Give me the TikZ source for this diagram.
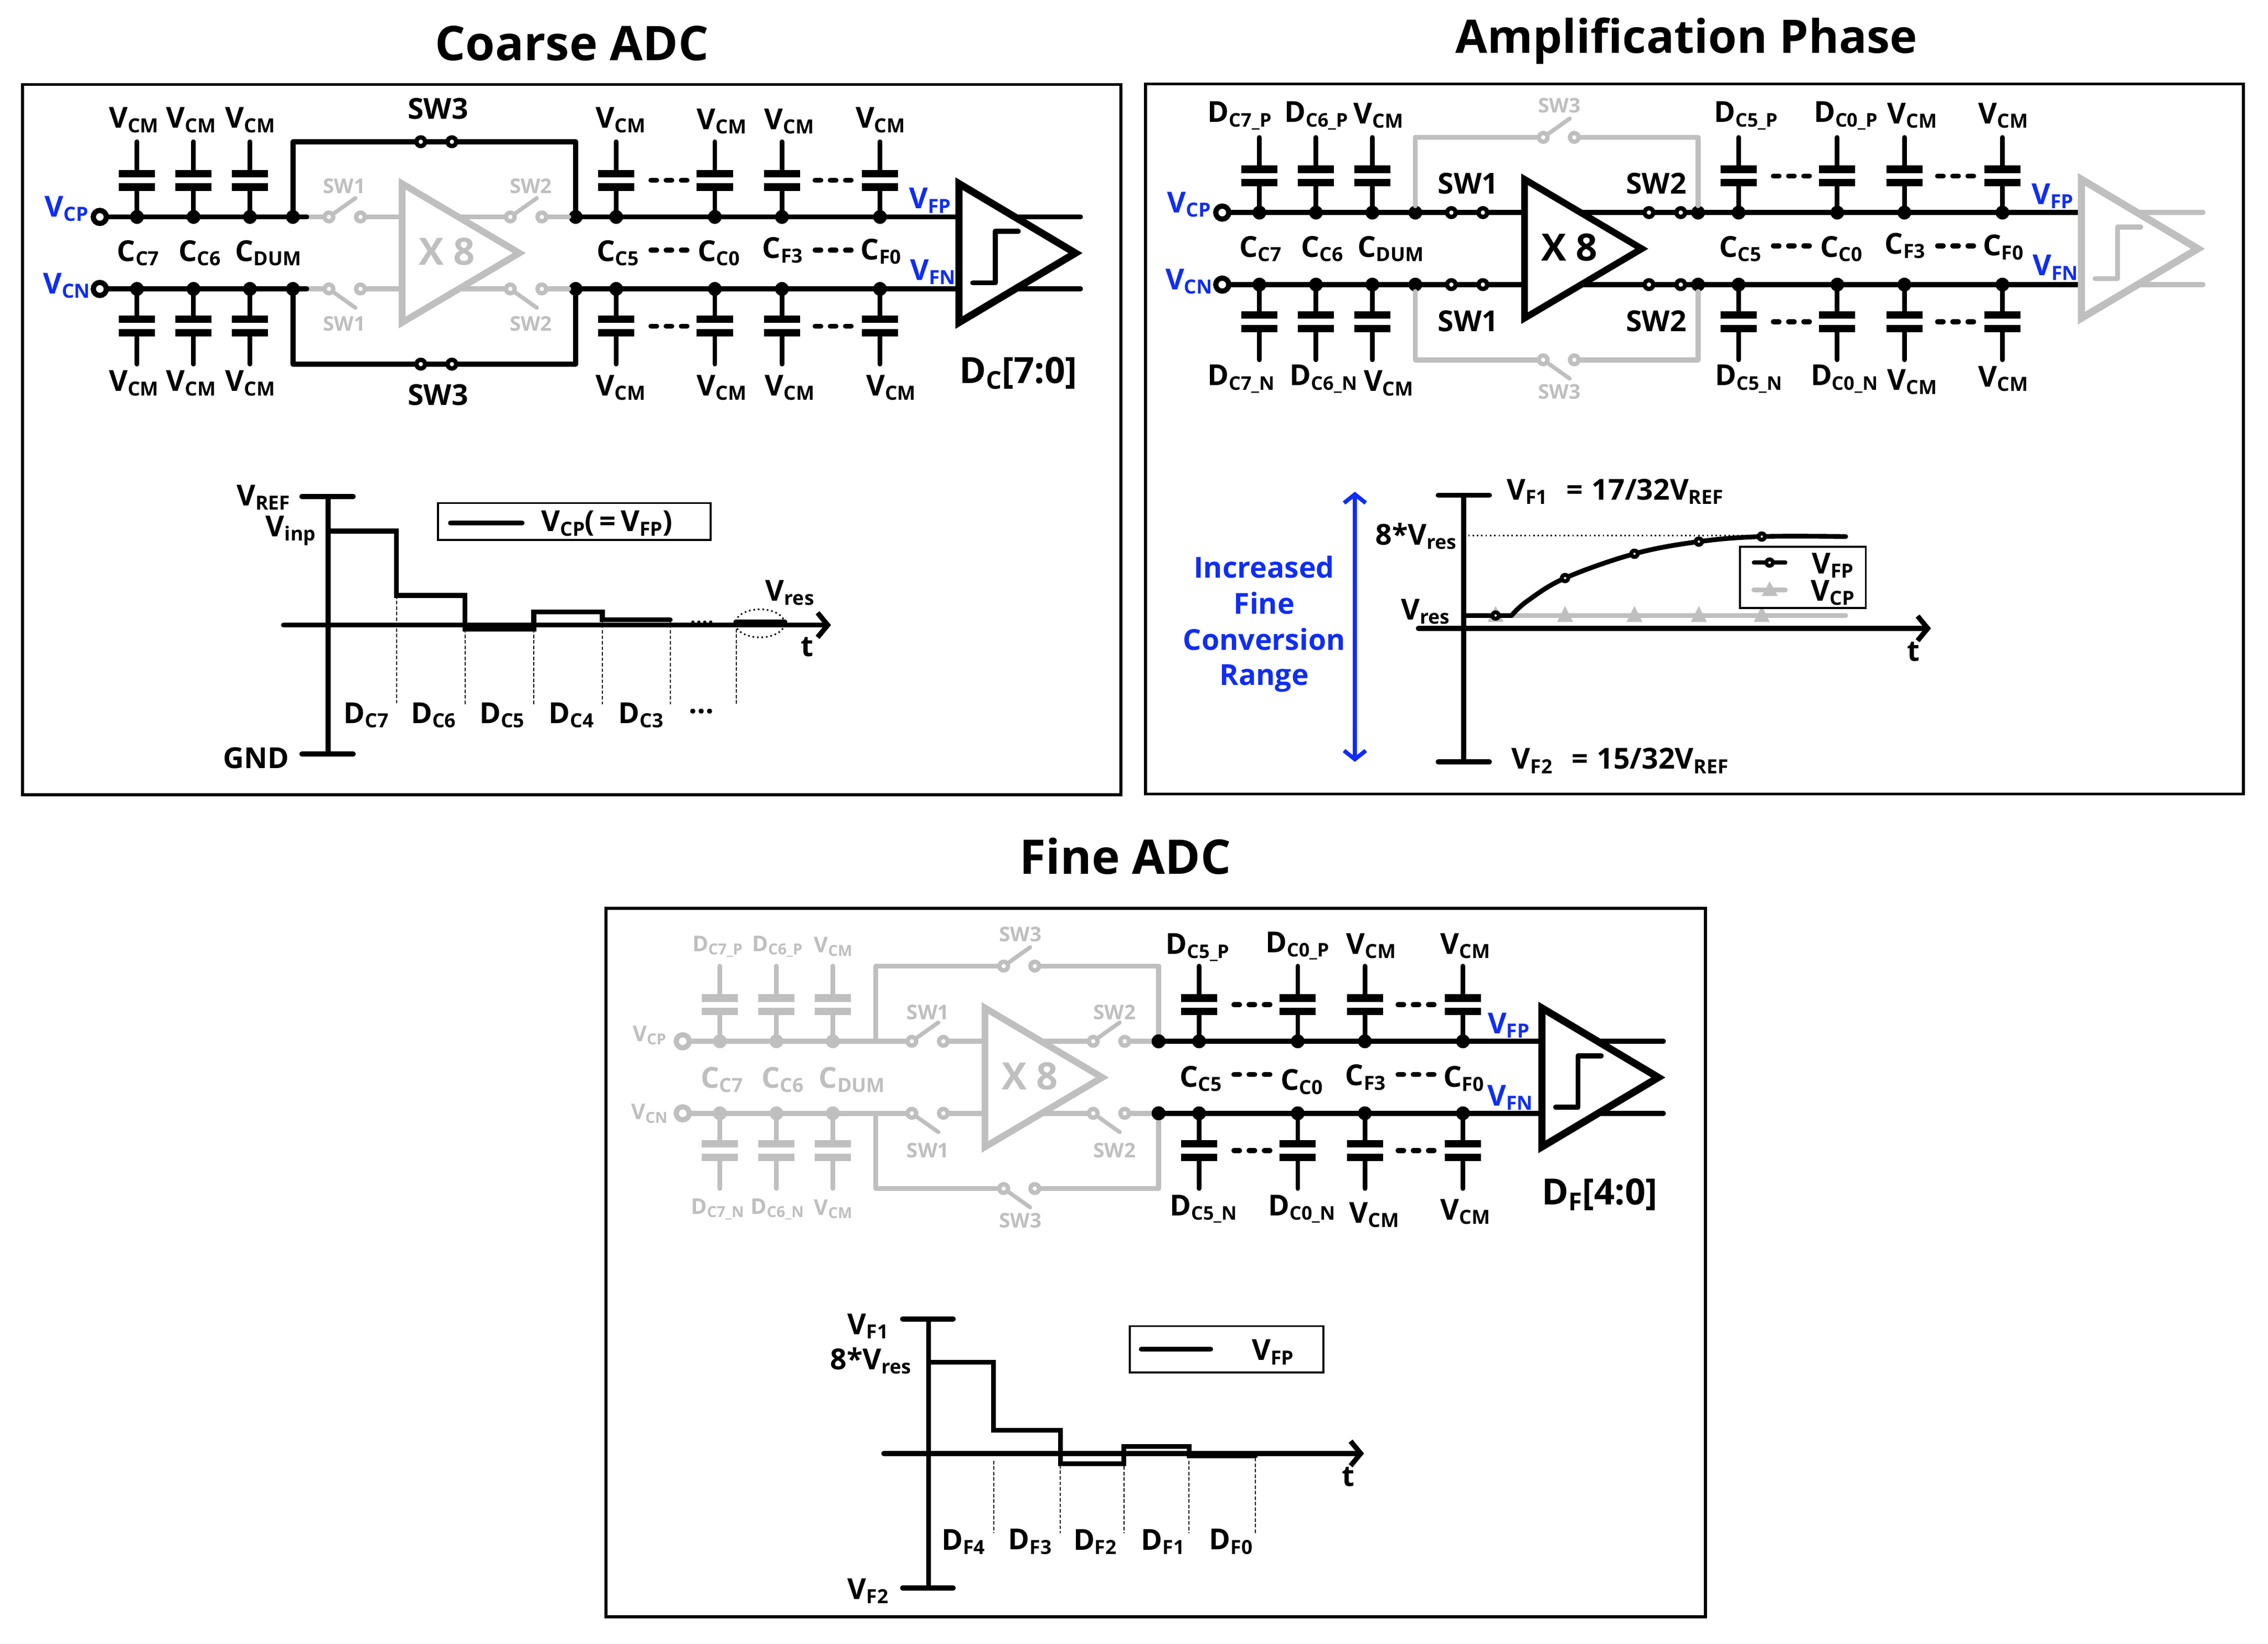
\documentclass[tikz,border=0pt]{standalone}
\usepackage{fontspec}
\setmainfont{Open Sans}
\usetikzlibrary{arrows.meta}
\definecolor{swg}{HTML}{BFBFBF}
\definecolor{vblue}{HTML}{0F2DF5}
\newcounter{lb}
\def\subsz{13.5}
\newcommand\Sb[2]{#1\raisebox{-0.15em}{\fontsize{\subsz}{\subsz}\selectfont #2}}
\newcommand\tl[4][lab]{\stepcounter{lb}\node[#1] (t\thelb) at (#2,#3) {#4};}
\tikzset{
  lab/.style={font=\fontsize{20}{24}\selectfont\bfseries\def\subsz{13.5},inner sep=0pt,align=center},
  labm/.style={font=\fontsize{20}{24}\selectfont\bfseries\def\subsz{13},inner sep=0pt},
  labb/.style={font=\fontsize{25}{30}\selectfont\bfseries\def\subsz{17},inner sep=0pt},
  labs/.style={font=\fontsize{15}{18}\selectfont\bfseries\def\subsz{10.5},inner sep=0pt,text=swg},
  labsw/.style={font=\fontsize{14}{17}\selectfont\bfseries,inner sep=0pt,text=swg},
  title/.style={font=\fontsize{33}{38}\selectfont\bfseries,inner sep=0pt},
  titleb/.style={font=\fontsize{32}{38}\selectfont\bfseries,inner sep=0pt},
  labx/.style={font=\fontsize{26}{30}\selectfont\bfseries,inner sep=0pt},
  wire/.style={line width=3.5pt,line cap=round,line join=round},
  capw/.style={line width=3.2pt,line cap=round},
  plate/.style={line width=5.2pt},
  ampw/.style={line width=4.6pt,line join=miter},
  armw/.style={line width=2.8pt,line cap=round},
  jdot/.style={circle,fill,minimum size=9.6pt,inner sep=0pt,outer sep=0pt},
  ring/.style={circle,draw,fill=white,line width=3pt,minimum size=6pt,inner sep=0pt},
  term/.style={circle,draw,fill=white,line width=3.6pt,minimum size=9pt,inner sep=0pt},
  rows/.style={line width=3.4pt,line cap=round,dash pattern=on 4pt off 6.5pt},
  panel/.style={draw,line width=2pt},
  axis/.style={line width=3.5pt,line cap=round},
  axarrow/.style={axis,-{Straight Barb[length=7pt,width=17pt]}},
  wave/.style={line width=3.3pt,line join=miter,line cap=round},
  vdash/.style={line width=0.8pt,dash pattern=on 2.5pt off 1.3pt},
  legbox/.style={draw,line width=1.3pt},
}
\newcommand\capU[3]{%
  \coordinate (#1t) at (#2,98); \coordinate (#1a) at (#2,120.1); \coordinate (#1b) at (#2,129.3);
  \node[jdot,#3] (#1) at (#2,150) {};
  \draw[capw,#3] (#1t) -- (#1a); \draw[capw,#3] (#1b) -- (#1);
  \draw[plate,#3] ([xshift=-12.5pt]#1a) -- ([xshift=12.5pt]#1a);
  \draw[plate,#3] ([xshift=-12.5pt]#1b) -- ([xshift=12.5pt]#1b);}
\newcommand\capD[3]{%
  \coordinate (#1t) at (#2,251.8); \coordinate (#1a) at (#2,230.2); \coordinate (#1b) at (#2,220.8);
  \node[jdot,#3] (#1) at (#2,199.8) {};
  \draw[capw,#3] (#1t) -- (#1a); \draw[capw,#3] (#1b) -- (#1);
  \draw[plate,#3] ([xshift=-12.5pt]#1a) -- ([xshift=12.5pt]#1a);
  \draw[plate,#3] ([xshift=-12.5pt]#1b) -- ([xshift=12.5pt]#1b);}
\newcommand\leftcaps[1]{%
  \capU{cu1}{94.7}{#1}\capU{cu2}{133.8}{#1}\capU{cu3}{172.8}{#1}%
  \capD{cd1}{94.7}{#1}\capD{cd2}{133.8}{#1}\capD{cd3}{172.8}{#1}%
  \node[term,draw=#1] (vcp) at (69,150) {};
  \node[term,draw=#1] (vcn) at (69,199.8) {};
  \draw[wire,#1] (vcp) -- (cu1) -- (cu2) -- (cu3);
  \draw[wire,#1] (vcn) -- (cd1) -- (cd2) -- (cd3);}
\newcommand\rightcaps{%
  \capU{ru1}{426}{black}\capU{ru2}{494.2}{black}\capU{ru3}{540.6}{black}\capU{ru4}{608.4}{black}%
  \capD{rd1}{426}{black}\capD{rd2}{494.2}{black}\capD{rd3}{540.6}{black}\capD{rd4}{608.4}{black}%
  \node[jdot] (jr1) at (398,150) {}; \node[jdot] (jr2) at (398,199.8) {};
  \coordinate (ci1) at (663,150); \coordinate (ci2) at (663,199.8);
  \draw[wire] (jr1) -- (ru1) -- (ru2) -- (ru3) -- (ru4) -- (ci1);
  \draw[wire] (jr2) -- (rd1) -- (rd2) -- (rd3) -- (rd4) -- (ci2);
  \draw[rows] (450,124.7) -- (475.5,124.7);
  \draw[rows] (563.5,124.7) -- (589,124.7);
  \draw[rows] (450,173) -- (475.5,173);
  \draw[rows] (563.5,173) -- (589,173);
  \draw[rows] (450,225.5) -- (475.5,225.5);
  \draw[rows] (563.5,225.5) -- (589,225.5);}
\newcommand\ampl[1]{%
  \draw[ampw,#1] (278,127) -- (359,175) -- (278,223) -- cycle;
  \tl[labx,text=#1]{309}{174}{X 8}}
\newcommand\compar[1]{%
  \coordinate (co1) at (702,150); \coordinate (cx1) at (747,150);
  \coordinate (co2) at (702,199.8); \coordinate (cx2) at (747,199.8);
  \draw[wire,#1] (co1) -- (cx1); \draw[wire,#1] (co2) -- (cx2);
  \draw[ampw,line width=5pt,#1] (663,127) -- (743.5,175) -- (663,223) -- cycle;
  \draw[wire,#1] (672.5,195.6) -- (688,195.6) -- (688,160) -- (704,160);}
% open switch: name, x1, x2, y, arm dy, colour
\newcommand\openSW[6]{%
  \node[ring,draw=#6] (#1a) at (#2,#4) {};
  \node[ring,draw=#6] (#1b) at (#3,#4) {};
  \draw[armw,#6] (#1a) -- ++(18.3,#5);}
\newcommand\shutSW[5]{%
  \node[ring,draw=#5] (#1a) at (#2,#4) {};
  \node[ring,draw=#5] (#1b) at (#3,#4) {};
  \draw[wire,#5] (#1a) -- (#1b);}
\newcommand\railcoords{%
  \coordinate (rl1) at (202.5,98); \coordinate (rr1) at (398,98);
  \coordinate (rl2) at (202.5,251.8); \coordinate (rr2) at (398,251.8);
  \coordinate (ai1) at (278,150); \coordinate (ai2) at (278,199.8);
  \coordinate (ao1) at (318,150); \coordinate (ao2) at (318,199.8);}
\begin{document}
\begin{tikzpicture}[x=1pt,y=-1pt]
\useasboundingbox (0,0) rectangle (1568,1136.7);
\fill[white] (0,0) rectangle (1568,1136.7);
\tl[title]{395.5}{30}{Coarse ADC}
\tl[titleb]{1166}{28.5}{Amplification Phase}
\tl[title]{778}{592}{Fine ADC}
\draw[panel] (15.5,58.5) rectangle (775,549.5);
\draw[panel] (792,58) rectangle (1551,549);
\draw[panel] (419,628) rectangle (1179,1118);
%% ---------- Coarse ADC
\begin{scope}[name prefix=a-]
\leftcaps{black}\rightcaps\railcoords
\node[jdot] (jl1) at (202.5,150) {}; \node[jdot] (jl2) at (202.5,199.8) {};
\coordinate (jx1) at (212,150); \coordinate (jx2) at (212,199.8);
\shutSW{st}{290.9}{312.4}{98}{black}
\shutSW{sb}{290.9}{312.4}{251.8}{black}
\openSW{s1t}{227.4}{249.2}{150}{-13}{swg}
\openSW{s1b}{227.4}{249.2}{199.8}{13}{swg}
\openSW{s2t}{352.8}{374.6}{150}{-13}{swg}
\openSW{s2b}{352.8}{374.6}{199.8}{13}{swg}
\draw[wire,swg] (jx1) -- (s1ta); \draw[wire,swg] (s1tb) -- (ai1);
\draw[wire,swg] (jx2) -- (s1ba); \draw[wire,swg] (s1bb) -- (ai2);
\draw[wire,swg] (ao1) -- (s2ta); \draw[wire,swg] (s2tb) -- (jr1);
\draw[wire,swg] (ao2) -- (s2ba); \draw[wire,swg] (s2bb) -- (jr2);
\ampl{swg}\compar{black}
\draw[wire] (cu3) -- (jl1) -- (jx1);
\draw[wire] (cd3) -- (jl2) -- (jx2);
\draw[wire] (jl1) -- (rl1) -- (sta); \draw[wire] (stb) -- (rr1) -- (jr1);
\draw[wire] (jl2) -- (rl2) -- (sba); \draw[wire] (sbb) -- (rr2) -- (jr2);
\foreach \x/\y/\t in {92.5/83/V,132/83/V,173/83/V,429/83/V,499/84/V,545.5/84/V,608.7/83/V,92.5/265/V,132/265/V,173/265/V,429/268/V,499/268/V,546/268/V,616/268/V}
  {\tl{\x}{\y}{\Sb{V}{CM}}}
\tl{95.5}{175}{\Sb{C}{C7}}
\tl{138}{175}{\Sb{C}{C6}}
\tl{185.5}{175}{\Sb{C}{DUM}}
\tl{427}{175}{\Sb{C}{C5}}
\tl{497}{175}{\Sb{C}{C0}}
\tl{541}{173}{\Sb{C}{F3}}
\tl{609}{174}{\Sb{C}{F0}}
\tl[lab,text=vblue]{46}{144.4}{\Sb{V}{CP}}
\tl[lab,text=vblue]{46}{197.6}{\Sb{V}{CN}}
\tl[lab,text=vblue]{643}{138.7}{\Sb{V}{FP}}
\tl[lab,text=vblue]{645}{188}{\Sb{V}{FN}}
\tl[labb]{704}{258}{\Sb{D}{C}[7:0]}
\tl{302.8}{75.2}{SW3}
\tl{302.8}{273}{SW3}
\tl[labsw]{238}{128.7}{SW1}
\tl[labsw]{238}{224}{SW1}
\tl[labsw]{367}{128.7}{SW2}
\tl[labsw]{367}{224}{SW2}
%
\coordinate (ya) at (226.9,343.3); \coordinate (yb) at (226.9,521.3);
\coordinate (xa) at (196,432.2); \coordinate (xb) at (574.5,432.2);
\draw[axis] (ya) -- (yb);
\draw[axis] (208.7,343.3) -- (244.2,343.3);
\draw[axis] (208.7,521.3) -- (244.2,521.3);
\draw[axarrow] (xa) -- (xb);
\foreach \x/\y in {274.2/411.7,321.5/435,369/435,416.4/428,463.4/428,509/431}
  \draw[vdash] (\x,\y) -- (\x,487);
\draw[wave] (226.9,367.2) -- (274.2,367.2) -- (274.2,411.7) -- (321.5,411.7) -- (321.5,435) -- (369,435) -- (369,423) -- (416.4,423) -- (416.4,428.4) -- (463.4,428.4);
\draw[wave] (508.7,430) -- (542.7,430);
\draw[line width=1.1pt,dotted] (525.4,431) ellipse [x radius=17pt,y radius=9.7pt];
\draw[line width=2.2pt,line cap=round,dash pattern=on 0.1pt off 4pt] (479,430) -- (492,430);
\draw[legbox] (302.8,347.8) rectangle (491.4,373.4);
\draw[wave] (311.4,361.6) -- (361,361.6);
\tl{419.5}{362}{\Sb{V}{CP}(\,=\,\Sb{V}{FP})}
\tl{182}{344}{\Sb{V}{REF}}
\tl{201}{367}{\Sb{V}{inp}}
\tl{177}{524}{GND}
\tl{546}{410}{\Sb{V}{res}}
\tl{558}{447.5}{t}
\tl{253}{494.6}{\Sb{D}{C7}}
\tl{299.6}{494.6}{\Sb{D}{C6}}
\tl{347}{494.6}{\Sb{D}{C5}}
\tl{395}{494.6}{\Sb{D}{C4}}
\tl{443}{494.6}{\Sb{D}{C3}}
\tl{485}{492}{...}
\end{scope}
%% ---------- Amplification
\begin{scope}[shift={(776,-3)},name prefix=b-]
\leftcaps{black}\rightcaps\railcoords
\node[jdot] (jl1) at (202.5,150) {}; \node[jdot] (jl2) at (202.5,199.8) {};
\shutSW{s1t}{227.4}{249.2}{150}{black}
\shutSW{s1b}{227.4}{249.2}{199.8}{black}
\shutSW{s2t}{364}{386}{150}{black}
\shutSW{s2b}{364}{386}{199.8}{black}
\openSW{st}{290.9}{312.4}{98}{-13}{swg}
\openSW{sb}{290.9}{312.4}{251.8}{13}{swg}
\draw[wire,swg] (jl1) -- (rl1) -- (sta); \draw[wire,swg] (stb) -- (rr1) -- (jr1);
\draw[wire,swg] (jl2) -- (rl2) -- (sba); \draw[wire,swg] (sbb) -- (rr2) -- (jr2);
\ampl{black}\compar{swg}
\draw[wire] (cu3) -- (jl1) -- (s1ta); \draw[wire] (s1tb) -- (ai1);
\draw[wire] (cd3) -- (jl2) -- (s1ba); \draw[wire] (s1bb) -- (ai2);
\draw[wire] (ao1) -- (s2ta); \draw[wire] (s2tb) -- (jr1);
\draw[wire] (ao2) -- (s2ba); \draw[wire] (s2bb) -- (jr2);
\tl{95.5}{175}{\Sb{C}{C7}}
\tl{138}{175}{\Sb{C}{C6}}
\tl{185.5}{175}{\Sb{C}{DUM}}
\tl{427}{175}{\Sb{C}{C5}}
\tl{497}{175}{\Sb{C}{C0}}
\tl{541}{173}{\Sb{C}{F3}}
\tl{609}{174}{\Sb{C}{F0}}
\tl[lab,text=vblue]{46}{144.4}{\Sb{V}{CP}}
\tl[lab,text=vblue]{46}{197.6}{\Sb{V}{CN}}
\tl[lab,text=vblue]{643}{138.7}{\Sb{V}{FP}}
\tl[lab,text=vblue]{645}{188}{\Sb{V}{FN}}
\tl{239}{130}{SW1}
\tl{239}{225}{SW1}
\tl{369}{130}{SW2}
\tl{369}{225}{SW2}
\tl[labsw]{302}{76}{SW3}
\tl[labsw]{302}{274}{SW3}
\tl[labm]{81}{83}{\Sb{D}{C7\_P}}
\tl[labm]{134}{83}{\Sb{D}{C6\_P}}
\tl{177}{83}{\Sb{V}{CM}}
\tl[labm]{431}{83}{\Sb{D}{C5\_P}}
\tl[labm]{500}{83}{\Sb{D}{C0\_P}}
\tl{546}{83}{\Sb{V}{CM}}
\tl{609}{83}{\Sb{V}{CM}}
\tl[labm]{82}{265}{\Sb{D}{C7\_N}}
\tl[labm]{139}{265}{\Sb{D}{C6\_N}}
\tl{184}{268}{\Sb{V}{CM}}
\tl[labm]{433}{265}{\Sb{D}{C5\_N}}
\tl[labm]{499}{265}{\Sb{D}{C0\_N}}
\tl{546}{267}{\Sb{V}{CM}}
\tl{609}{265}{\Sb{V}{CM}}
\end{scope}
\begin{scope}[name prefix=bw-]
\coordinate (aa) at (936.7,340); \coordinate (ab) at (936.7,526.8);
\draw[vblue,line width=2.8pt,{Straight Barb[length=6pt,width=15pt]}-{Straight Barb[length=6pt,width=15pt]}] (aa) -- (ab);
\tl[lab,text=vblue]{874}{392}{Increased}
\tl[lab,text=vblue]{874}{417}{Fine}
\tl[lab,text=vblue]{874}{442}{Conversion}
\tl[lab,text=vblue]{874}{469}{Range}
\coordinate (ya) at (1012,342.4); \coordinate (yb) at (1012,526.8);
\coordinate (xa) at (980.6,434.5); \coordinate (xb) at (1335,434.5);
\draw[axis] (ya) -- (yb);
\draw[axis] (994.3,342.4) -- (1029.7,342.4);
\draw[axis] (994.3,526.8) -- (1029.7,526.8);
\draw[axarrow] (xa) -- (xb);
\draw[line width=1pt,dotted] (1012,370.2) -- (1218,370.2);
\draw[wave,swg] (1034,425.6) -- (1276,425.6);
\foreach \x in {1034,1082,1130,1174.5,1218}
  \fill[swg] (\x-5.5,430) -- (\x,419) -- (\x+5.5,430) -- cycle;
\draw[wave] (1012,425.6) -- (1045,425.6);
\draw[wave] plot[smooth,tension=0.6] coordinates {(1045,425.6) (1056,415.5) (1082,399.7) (1130,382.9) (1174.5,374.5) (1218,371) (1276,371)};
\foreach \x/\y in {1034/425.6,1082/399.7,1130/382.9,1174.5/374.5,1218/371}
  {\fill (\x,\y) circle (3.6pt); \fill[white] (\x,\y) circle (0.8pt);}
\draw[legbox,fill=white] (1203,378) rectangle (1290,420.4);
\draw[line width=2.8pt,line cap=round] (1212.5,389) -- (1234.3,389);
\fill (1223.4,389) circle (3.6pt);
\fill[white] (1223.4,389) circle (0.9pt);
\draw[line width=3.2pt,line cap=round,swg] (1212.5,407.8) -- (1234.3,407.8);
\fill[swg] (1218,412) -- (1223.4,402) -- (1229,412) -- cycle;
\tl{1267}{391}{\Sb{V}{FP}}
\tl{1267}{410}{\Sb{V}{CP}}
\tl{1116.5}{340}{\Sb{V}{F1}\hspace{8pt} =\hspace{1pt} 17/32\Sb{V}{REF}}
\tl{1120}{526}{\Sb{V}{F2}\hspace{8pt} =\hspace{1pt} 15/32\Sb{V}{REF}}
\tl{979}{370.6}{8*\Sb{V}{res}}
\tl{985.4}{423}{\Sb{V}{res}}
\tl{1323}{450.6}{t}
\end{scope}
%% ---------- Fine ADC
\begin{scope}[shift={(403,570)},name prefix=c-]
\leftcaps{swg}\railcoords
\coordinate (jl1) at (202.5,150); \coordinate (jl2) at (202.5,199.8);
\openSW{st}{290.9}{312.4}{98}{-13}{swg}
\openSW{sb}{290.9}{312.4}{251.8}{13}{swg}
\openSW{s1t}{227.4}{249.2}{150}{-13}{swg}
\openSW{s1b}{227.4}{249.2}{199.8}{13}{swg}
\openSW{s2t}{352.8}{374.6}{150}{-13}{swg}
\openSW{s2b}{352.8}{374.6}{199.8}{13}{swg}
\node[jdot] (jrp1) at (398,150) {}; \node[jdot] (jrp2) at (398,199.8) {};
\draw[wire,swg] (jl1) -- (rl1) -- (sta); \draw[wire,swg] (stb) -- (rr1) -- (jrp1);
\draw[wire,swg] (jl2) -- (rl2) -- (sba); \draw[wire,swg] (sbb) -- (rr2) -- (jrp2);
\draw[wire,swg] (cu3) -- (s1ta); \draw[wire,swg] (s1tb) -- (ai1);
\draw[wire,swg] (cd3) -- (s1ba); \draw[wire,swg] (s1bb) -- (ai2);
\ampl{swg}
\draw[wire,swg] (ao1) -- (s2ta); \draw[wire,swg] (s2tb) -- (jrp1);
\draw[wire,swg] (ao2) -- (s2ba); \draw[wire,swg] (s2bb) -- (jrp2);
\rightcaps\compar{black}
\tl[lab,text=swg]{96}{176.7}{\Sb{C}{C7}}
\tl[lab,text=swg]{138}{176.7}{\Sb{C}{C6}}
\tl[lab,text=swg]{186}{176.7}{\Sb{C}{DUM}}
\tl{427}{176}{\Sb{C}{C5}}
\tl{497}{178}{\Sb{C}{C0}}
\tl{541}{175}{\Sb{C}{F3}}
\tl{609}{176}{\Sb{C}{F0}}
\tl[labs]{46}{146}{\Sb{V}{CP}}
\tl[labs]{46}{200}{\Sb{V}{CN}}
\tl[lab,text=vblue]{640}{139}{\Sb{V}{FP}}
\tl[lab,text=vblue]{641}{189}{\Sb{V}{FN}}
\tl[labsw]{302.4}{76}{SW3}
\tl[labsw]{302.4}{274}{SW3}
\tl[labsw]{238.5}{130}{SW1}
\tl[labsw]{238.5}{225.6}{SW1}
\tl[labsw]{367.6}{130}{SW2}
\tl[labsw]{367.6}{225.6}{SW2}
\tl[labs]{93}{84.6}{\Sb{D}{C7\_P}}
\tl[labs]{134.4}{84.6}{\Sb{D}{C6\_P}}
\tl[labs]{173}{84.6}{\Sb{V}{CM}}
\tl[labs]{93}{266}{\Sb{D}{C7\_N}}
\tl[labs]{134.4}{266}{\Sb{D}{C6\_N}}
\tl[labs]{173}{266}{\Sb{V}{CM}}
\tl[labm]{425}{85}{\Sb{D}{C5\_P}}
\tl[labm]{494}{84}{\Sb{D}{C0\_P}}
\tl{545}{84}{\Sb{V}{CM}}
\tl{610}{84}{\Sb{V}{CM}}
\tl[labm]{429}{266}{\Sb{D}{C5\_N}}
\tl[labm]{497}{266}{\Sb{D}{C0\_N}}
\tl{547}{270}{\Sb{V}{CM}}
\tl{610}{268}{\Sb{V}{CM}}
\tl[labb]{703}{256}{\Sb{D}{F}[4:0]}
\end{scope}
\begin{scope}[name prefix=cw-]
\coordinate (ya) at (642,912); \coordinate (yb) at (642,1098);
\coordinate (xa) at (611,1005); \coordinate (xb) at (943,1005);
\draw[axis] (ya) -- (yb);
\draw[axis] (624,912) -- (659,912);
\draw[axis] (624,1098) -- (659,1098);
\draw[axarrow] (xa) -- (xb);
\foreach \x/\y in {687/1010,733/1013,777/1010,822/1010,868/1008}
  \draw[vdash] (\x,\y) -- (\x,1060);
\draw[wave] (642,942) -- (687,942) -- (687,989) -- (733,989) -- (733,1012) -- (777,1012) -- (777,1000) -- (822,1000) -- (822,1006.5) -- (868,1006.5);
\draw[legbox] (781,917) rectangle (915,949);
\draw[wave] (789,933) -- (837,933);
\tl{880}{935}{\Sb{V}{FP}}
\tl{600}{917}{\Sb{V}{F1}}
\tl{602}{941}{8*\Sb{V}{res}}
\tl{600}{1100}{\Sb{V}{F2}}
\tl{932}{1021}{t}
\tl{666}{1066}{\Sb{D}{F4}}
\tl{712}{1066}{\Sb{D}{F3}}
\tl{757}{1066}{\Sb{D}{F2}}
\tl{804}{1066}{\Sb{D}{F1}}
\tl{851}{1066}{\Sb{D}{F0}}
\end{scope}
\end{tikzpicture}
\end{document}
